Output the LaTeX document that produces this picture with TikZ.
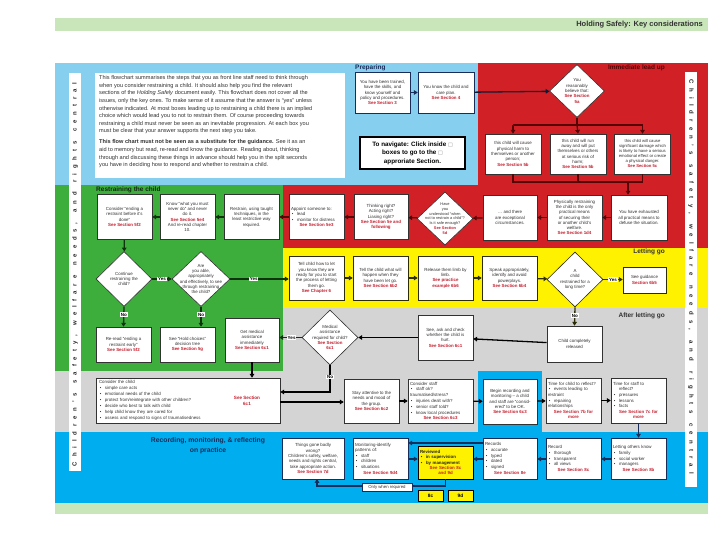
\documentclass[tikz,border=0pt]{standalone}
\usepackage{fontspec}
\setmainfont{Liberation Sans}
\newfontfamily\djv{DejaVu Sans}
\usetikzlibrary{shapes.geometric,arrows.meta}
\definecolor{ltblue}{RGB}{135,207,238}
\definecolor{rdbg}{RGB}{210,32,39}
\definecolor{grbg}{RGB}{61,174,60}
\definecolor{ylbg}{RGB}{255,242,0}
\definecolor{gybg}{RGB}{212,212,212}
\definecolor{blbg}{RGB}{0,173,238}
\definecolor{lgband}{RGB}{200,230,185}
\definecolor{redtxt}{RGB}{196,30,45}
\definecolor{txt}{RGB}{50,50,50}
\definecolor{navy}{RGB}{25,45,90}
\definecolor{maroon}{RGB}{85,5,5}
\definecolor{dkgreen}{RGB}{15,50,15}
\definecolor{dkolive}{RGB}{45,45,10}
\definecolor{hdgreen}{RGB}{20,40,20}
\newcommand\rd[1]{\textcolor{redtxt}{\bfseries #1}}
\newcommand\bl[1]{\par\noindent\hangindent=6pt\hbox to 6pt{\hspace{0.8pt}\textbullet\hfil}#1}
\newdimen\spk
\def\spcx#1{\ifx#1\relax\else#1\kern\spk\expandafter\spcx\fi}
\newcommand\spc[1]{\spcx#1\relax}
\newcommand\stripTxt{\spc{Children's}\hspace{5pt}\spc{safety,}\hspace{5pt}\spc{welfare}\hspace{5pt}\spc{needs,}\hspace{5pt}\spc{and}\hspace{5pt}\spc{rights}\hspace{5pt}\spc{central}}
\tikzset{
  bx/.style={draw=#1, fill=white, line width=0.6pt, inner sep=1.5pt, align=center, text=txt, font=\fontsize{4.4}{5.3}\selectfont},
  bx/.default=txt,
  sz/.style 2 args={minimum width=#1pt, minimum height=#2pt},
  dm/.style={diamond, draw=#1, fill=white, line width=0.6pt, inner sep=0pt, aspect=1},
  dm/.default=txt,
  dt/.style={align=center, text=txt, inner sep=0pt, font=\fontsize{4.4}{5.3}\selectfont},
  ar/.style={draw=#1, line width=1.3pt, -{Triangle[length=3.8pt,width=4.6pt]}},
  ar/.default=black,
  ln/.style={draw=#1, line width=1.3pt},
  ln/.default=black,
  lb/.style={fill=white, text=black, font=\bfseries\fontsize{4.5}{5}\selectfont, inner sep=0.9pt},
  hd/.style={font=\bfseries\fontsize{6.5}{7}\selectfont, inner sep=0pt},
}
\begin{document}
\begin{tikzpicture}[x=1pt,y=-1pt]
\useasboundingbox (0,0) rectangle (728,534);
% backgrounds
\fill[lgband] (55,18) rectangle (708,31);
\fill[lgband] (55,503) rectangle (708,514);
\fill[ltblue] (55,63) rectangle (478,185);
\fill[rdbg] (478,63) rectangle (708,185);
\fill[rdbg] (283,185) rectangle (708,248);
\fill[grbg] (55,185) rectangle (283,371);
\fill[ylbg] (283,248) rectangle (708,308);
\fill[gybg] (283,308) rectangle (708,432);
\fill[gybg] (55,371) rectangle (283,432);
\fill[blbg] (55,432) rectangle (708,503);
\fill[blbg] (478,371) rectangle (542,432);
\fill[white] (95,73) rectangle (345,178);
\fill[white] (69,73) rectangle (81,471);
\fill[white] (685,72) rectangle (697,487);
% strips
\node[rotate=90, inner sep=0pt, text=black!85, font=\bfseries\fontsize{6}{6}\selectfont] (lstrip) at (75,272) {\spk=4.85pt\stripTxt};
\node[rotate=-90, inner sep=0pt, text=black!85, font=\bfseries\fontsize{6}{6}\selectfont] (rstrip) at (691,279) {\spk=5.1pt\stripTxt};
% headings
\node[anchor=east, inner sep=0pt, text=black!80, font=\bfseries\fontsize{7.5}{8}\selectfont] (title) at (703,25) {Holding Safely: Key considerations};
\node[hd, anchor=west, text=navy] (hprep) at (355,67.5) {Preparing};
\node[hd, anchor=east, text=maroon] (himm) at (665,67.5) {Immediate lead up};
\node[hd, anchor=west, text=hdgreen] (hres) at (96,190) {Restraining the child};
\node[hd, anchor=east, text=black!80] (hlet) at (665,252) {Letting go};
\node[hd, anchor=east, text=black!80] (hafter) at (665,316) {After letting go};
\node[align=center, inner sep=0pt, text=navy, font=\bfseries\fontsize{6.8}{10}\selectfont] (hrec) at (208,446) {Recording, monitoring, \& reflecting\\on practice};
% intro
\node[anchor=north west, align=left, inner sep=0pt, text=txt, font=\fontsize{5.6}{7.6}\selectfont] (intro) at (99,75.5) {This flowchart summarises the steps that you as front line staff need to think through\\
when you consider restraining a child. It should also help you find the relevant\\
sections of the \textit{Holding Safely} document easily. This flowchart does not cover all the\\
issues, only the key ones. To make sense of it assume that the answer is “yes” unless\\
otherwise indicated. At most boxes leading up to restraining a child there is an implied\\
choice which would lead you to not to restrain them. Of course proceeding towards\\
restraining a child must never be seen as an inevitable progression. At each box you\\
must be clear that your answer supports the next step you take.\\[3.4pt]
\textbf{This flow chart must not be seen as a substitute for the guidance.} See it as an\\
aid to memory but read, re-read and know the guidance. Reading about, thinking\\
through and discussing these things in advance should help you in the split seconds\\
you have in deciding how to respond and whether to restrain a child.};
% navigate
\node[draw=black, line width=1.2pt, fill=white, minimum width=105pt, minimum height=32pt, align=center, inner sep=1pt, text=black, font=\bfseries\fontsize{6.3}{8.4}\selectfont] (nav) at (412.5,153) {To navigate: Click inside {\djv\color{gray}\fontsize{5}{5}\selectfont □}\\boxes to go to the {\djv\color{gray}\fontsize{5}{5}\selectfont □}\\approriate Section.};
% preparing
\node[bx=navy, sz={55}{41}] (p1) at (382.5,92.5) {You have been trained,\\have the skills, and\\know yourself and\\policy and procedures.\\\rd{See Section 3}};
\node[bx=navy, sz={56}{41}] (p2) at (446,92.5) {You know the child and\\care plan.\\\rd{See Section 4}};
% immediate lead up
\node[dm, minimum width=55pt, minimum height=53pt] (d1) at (577,91) {};
\node[dt] (d1t) at (d1) {You\\reasonably\\believe that:\\\rd{See Section}\\\rd{5a}};
\node[bx, sz={56}{40}] (a1) at (513,154) {this child will cause\\physical harm to\\themselves or another\\person;\\\rd{See Section 5b}};
\node[bx, sz={56}{40}] (a2) at (578,154) {this child will run\\away and will put\\themselves or others\\at serious risk of\\harm;\\\rd{See Section 5b}};
\node[bx, sz={56}{40}, font=\fontsize{4.2}{5}\selectfont] (a3) at (642.5,154) {this child will cause\\significant damage which\\is likely to have a serious\\emotional effect or create\\a physical danger.\\\rd{See Section 5c}};
\node[bx, sz={56}{45}] (e1) at (639,217.5) {You have exhausted\\all practical means to\\defuse the situation.};
\node[bx, sz={55}{45}] (e2) at (574.5,217.5) {Physically restraining\\the child is the only\\practical means\\of securing their\\or another child's\\welfare.\\\rd{See Section 1d4}};
\node[bx, sz={54}{45}] (e3) at (510,217.5) {\dots\ and there\\are exceptional\\circumstances.};
\node[dm, minimum width=56pt, minimum height=53pt] (d2) at (445,218.5) {};
\node[dt, font=\fontsize{3.9}{4.8}\selectfont] (d2t) at (d2) {Have\\you\\understood “when\\not to restrain a child”?\\Is it safe enough?\\\rd{See Section}\\\rd{5d}};
\node[bx, sz={54}{45}] (e4) at (381,217) {Thinking right?\\Acting right?\\Liasing right?\\\rd{See Section 5e and}\\\rd{following}};
\node[bx, sz={55}{45}, text width=51pt] (e5) at (316.5,217) {{\raggedright Appoint someone to:\bl{lead}\bl{monitor for distress}\par}\centering\rd{See Section 5e3}};
% restraining
\node[bx, sz={55}{45}] (g1) at (251.5,217) {Restrain, using taught\\techniques, in the\\least restrictive way\\required.};
\node[bx, sz={55}{45}] (g2) at (187.5,217) {Know “what you must\\never do” and never\\do it.\\\rd{See Section 5e4}\\And re-read chapter\\10.};
\node[bx, sz={55}{45}] (g3) at (124.5,217) {Consider “ending a\\restraint before it's\\done”\\\rd{See Section 5f2}};
\node[dm, minimum width=56pt, minimum height=55pt] (d3) at (124,279) {};
\node[dt] (d3t) at (d3) {Continue\\restraining the\\child?};
\node[dm, minimum width=58pt, minimum height=55pt] (d4) at (201,279) {};
\node[dt] (d4t) at (d4) {Are\\you able,\\appropriately\\and effectively, to see\\through restraining\\the child?};
\node[bx, sz={55}{35}] (g4) at (123.5,344.5) {Re-read “ending a\\restraint early”\\\rd{See Section 5f2}};
\node[bx, sz={55}{35}] (g5) at (187.5,344.5) {See “Hold choices”\\decision tree\\\rd{See Section 5g}};
\node[bx, sz={54}{44}] (g6) at (252,340) {Get medical\\assistance\\immediately\\\rd{See Section 6c1}};
% letting go
\node[bx=dkolive, sz={55}{44}] (y1) at (316.5,278) {Tell child how to let\\you know they are\\ready for you to start\\the process of letting\\them go.\\\rd{See Chapter 6}};
\node[bx=dkolive, sz={55}{44}] (y2) at (380.5,278) {Tell the child what will\\happen when they\\have been let go.\\\rd{See Section 6b2}};
\node[bx=dkolive, sz={55}{44}] (y3) at (445.5,278) {Release them limb by\\limb.\\\rd{See practice}\\\rd{example 6b6}};
\node[bx=dkolive, sz={55}{44}] (y4) at (509.5,278) {Speak appropriately,\\identify and avoid\\powerplays.\\\rd{See Section 6b4}};
\node[dm=dkolive, minimum width=56pt, minimum height=55pt] (d5) at (575,279.5) {};
\node[dt] (d5t) at (d5) {A\\child\\restrained for a\\long time?};
\node[bx=dkolive, sz={43}{26}] (y5) at (644.5,280) {See guidance\\\rd{Section 6b5}};
% after letting go
\node[dm, minimum width=56pt, minimum height=55pt] (d6) at (330,337.5) {};
\node[dt] (d6t) at (d6) {Medical\\assistance\\required for child?\\\rd{See Section}\\\rd{6c1}};
\node[bx, sz={55}{45}] (s1) at (445.5,337.5) {See, ask and check\\whether the child is\\hurt.\\\rd{See Section 6c1}};
\node[bx, sz={55}{36}] (s2) at (574.5,344) {Child completely\\released};
\node[bx, sz={184}{45}, text width=178pt, font=\fontsize{4.4}{5.9}\selectfont] (s3) at (188,400.5) {{\raggedright Consider the child\bl{simple care acts}\bl{emotional needs of the child}\bl{protect from/reintegrate with other children?}\bl{decide who best to talk with child}\bl{help child know they are cared for}\bl{assess and respond to signs of traumatisedness}\par}};
\node[align=center, inner sep=0pt, font=\fontsize{4.6}{6}\selectfont] (s3r) at (247,401) {\rd{See Section}\\\rd{6c1}};
\node[bx, sz={55}{44}] (s4) at (371.5,401) {Stay attentive to the\\needs and mood of\\the group.\\\rd{See Section 6c2}};
\node[bx, sz={65}{44}, text width=61pt, font=\fontsize{4.4}{5.8}\selectfont] (s5) at (440.5,401) {{\raggedright Consider staff\bl{staff ok?\\traumatised/stress?}\bl{injuries dealt with?}\bl{senior staff told?}\bl{know local procedures}\par}\centering\rd{See Section 6c3}};
\node[bx, sz={54}{45}] (s6) at (510,401.5) {Begin recording and\\monitoring – a child\\and staff are “consid-\\ered” to be OK.\\\rd{See Section 6c3}};
\node[bx, sz={55}{45}, text width=51pt, font=\fontsize{4.4}{5.6}\selectfont] (s7) at (573.5,400.5) {{\raggedright Time for child to reflect?\bl{events leading to\\restraint}\bl{repairing\\relationships}\par}\centering\rd{See Section 7b for}\\\rd{more}};
\node[bx, sz={55}{45}, text width=51pt, font=\fontsize{4.4}{5.6}\selectfont] (s8) at (638.5,400.5) {{\raggedright Time for staff to\\\hspace*{6pt}reflect?\bl{pressures}\bl{lessons}\bl{facts}\par}\centering\rd{See Section 7c for}\\\rd{more}};
% recording
\node[bx=navy, sz={62}{41}] (b1) at (313,458.5) {Things gone badly\\wrong?\\Children's safety, welfare,\\needs and rights central,\\take appropriate action.\\\rd{See Section 7d}};
\node[bx=navy, sz={55}{41}, text width=51pt, font=\fontsize{4.4}{5.6}\selectfont] (b2) at (380.5,458.5) {{\raggedright Monitoring-identify\\patterns of:\bl{staff}\bl{children}\bl{situations}\par}\centering\rd{See Section 9d4}};
\node[bx=black, fill=ylbg, sz={55}{33}, text width=51pt, font=\bfseries\fontsize{4.4}{5.4}\selectfont, text=black!85] (b3) at (445.5,462.5) {{\raggedright Reviewed\bl{in supervision}\bl{by management}\par}\centering\rd{See Section 8c}\\\rd{and 9d}};
\node[bx=navy, sz={54}{41}, text width=50pt, font=\fontsize{4.4}{5.8}\selectfont] (b4) at (510,458.5) {{\raggedright Records\bl{accurate}\bl{typed}\bl{dated}\bl{signed}\par}\centering\rd{See Section 8e}};
\node[bx=navy, sz={55}{41}, text width=51pt, font=\fontsize{4.4}{5.8}\selectfont] (b5) at (573.5,458.5) {{\raggedright Record\bl{thorough}\bl{transparent}\bl{all views}\par}\centering\rd{See Section 8c}};
\node[bx=navy, sz={55}{41}, text width=51pt, font=\fontsize{4.4}{5.8}\selectfont] (b6) at (638.5,458.5) {{\raggedright Letting others know\bl{family}\bl{social worker}\bl{managers}\par}\centering\rd{See Section 8b}};
\node[draw=black, line width=0.8pt, fill=ylbg, minimum width=25pt, minimum height=11pt, inner sep=0pt, font=\bfseries\fontsize{4.8}{5}\selectfont] (k8c) at (430.5,495.5) {8c};
\node[draw=black, line width=0.8pt, fill=ylbg, minimum width=25pt, minimum height=11pt, inner sep=0pt, font=\bfseries\fontsize{4.8}{5}\selectfont] (k9d) at (460.5,495.5) {9d};
% connectors: preparing / lead up
\draw[ar=navy] (p1) -- (p2);
\draw[ar=navy!60!black] (p2) -- (d1);
\coordinate (br) at (577,125);
\draw[ln=maroon] (d1.south) -- (br);
\draw[ln=maroon] (a1.north |- br) -- (a3.north |- br);
\draw[ar=maroon] (a1.north |- br) -- (a1.north);
\draw[ar=maroon] (br) -- (a2.north);
\draw[ar=maroon] (a3.north |- br) -- (a3.north);
\coordinate (jn) at (628,182);
\draw[ln=maroon] (a1.south) -- (a1.south |- jn) -- (a3.south |- jn) -- (a3.south);
\draw[ln=maroon] (a2.south) -- (a2.south |- jn);
\draw[ar=maroon] (jn) -- (jn |- e1.north);
\draw[ar=maroon] (e1) -- (e2);
\draw[ar=maroon] (e2) -- (e3);
\draw[ar=maroon] (e3) -- (d2);
\draw[ar=maroon] (d2) -- (e4);
\draw[ar=maroon] (e4) -- (e5);
\draw[ar=maroon] (e5) -- (g1);
\draw[ar=dkgreen] (g1) -- (g2);
\draw[ar=dkgreen] (g2) -- (g3);
\draw[ar=dkgreen] (g3) -- (d3);
\draw[ar=dkgreen] (d3) -- (d4) node[lb, midway] (lyes1) {Yes};
\draw[ar=dkgreen] (d4.east) -- (d4.east -| y1.west) node[lb, pos=0.4] (lyes2) {Yes};
\draw[ar=dkgreen] (d3.south) -- (g4.north) node[lb, pos=0.4] (lno1) {No};
\draw[ar=dkgreen] (d4.south) -- (d4.south |- g5.north) node[lb, pos=0.4] (lno2) {No};
% letting go
\draw[ar=dkolive] (y1) -- (y2);
\draw[ar=dkolive] (y2) -- (y3);
\draw[ar=dkolive] (y3) -- (y4);
\draw[ar=dkolive] (y4) -- (d5);
\draw[ar=dkolive] (d5.east) -- (d5.east -| y5.west) node[lb, midway] (lyes3) {Yes};
\draw[ar=dkolive] (d5.south) -- (s2.north) node[lb, pos=0.45] (lno3) {No};
% after letting go
\draw[ar] (s2) -- (s1);
\draw[ar] (s1) -- (d6);
\draw[ar=dkgreen] (d6.west) -- (d6.west -| g6.east) node[lb, pos=0.45] (lyes4) {Yes};
\coordinate (nd) at (330,392);
\draw[ar] (d6.south) -- (nd) -- (nd -| s3.east);
\node[lb] (lno4) at (330,377) {No};
\draw[ar] (g6.south) -- (g6.south |- s3.north);
\draw[ar] (s3.east |- 0,402) -- (s4.west |- 0,402);
\draw[ar] (s4) -- (s5);
\draw[ar] (s5) -- (s6);
\draw[ar] (s6) -- (s7);
\draw[ar] (s7) -- (s8);
\draw[ar=navy] (s8.south) -- (b6.north);
% recording
\draw[ar=navy] (b6.west |- 0,459) -- (b5.east |- 0,459);
\draw[ar=navy] (b5.west |- 0,459) -- (b4.east |- 0,459);
\draw[ar=navy] (b4.west |- 0,459) -- (b3.east |- 0,459);
\draw[ar=navy] (b2.east |- 0,459) -- (b3.west |- 0,459);
\draw[ar=navy] (b4.west |- 0,443) -- (b2.east |- 0,443);
\coordinate (rq) at (445.5,486);
\draw[ar=navy] (b3.south) -- (rq) -- (317,486) -- (317,479);
\node[draw=navy, line width=0.5pt, fill=white, minimum width=50pt, minimum height=8pt, inner sep=0pt, text=txt, font=\fontsize{4.3}{5}\selectfont] (onlyreq) at (387,487) {Only when required};
\end{tikzpicture}
\end{document}
